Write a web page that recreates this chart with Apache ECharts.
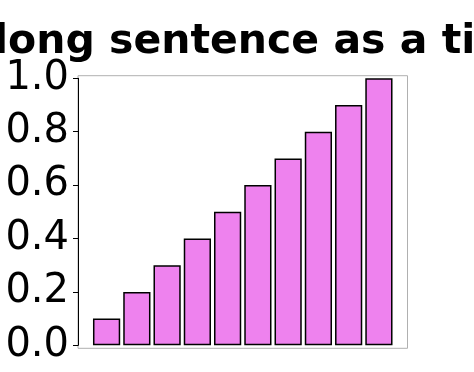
<!DOCTYPE html>
<html><head><meta charset="utf-8">
<script src="https://cdn.jsdelivr.net/npm/echarts@6/dist/echarts.min.js"></script>
<style>html,body{margin:0;padding:0;background:#fff}#c{width:474px;height:372px}</style>
</head><body><div id="c"></div>
<script>
const titleText = 'A long sentence as a title';
const positions = [0, 1, 2, 3, 4, 5, 6, 7, 8, 9];
const values = [0.1, 0.2, 0.3, 0.4, 0.5, 0.6, 0.7, 0.8, 0.9, 1.0];
const yTicks = [0, 0.2, 0.4, 0.6, 0.8, 1.0];
const xMin = -0.945, xMax = 9.945;

const chart = echarts.init(document.getElementById('c'), null, {renderer: 'canvas'});
const font = 'DejaVu Sans';
chart.setOption({
  animation: false,
  backgroundColor: '#fff',
  graphic: [{
    type: 'text', left: 243 - 295, top: 22,
    style: {text: titleText, font: 'bold 41px "DejaVu Sans"', fill: '#000'}
  }],
  grid: [
    {left: 78, top: 75.7, width: 329.5, height: 272.6, show: true, borderColor: '#b0b0b0', borderWidth: 1, backgroundColor: 'transparent'},
    {left: 78, top: 78.3, width: 329.5, height: 267}
  ],
  xAxis: [
    {gridIndex: 0, type: 'value', min: 0, max: 1, show: false},
    {gridIndex: 1, type: 'value', min: xMin, max: xMax, show: false}
  ],
  yAxis: [
    {gridIndex: 0, type: 'value', min: 0, max: 1, show: false},
    {gridIndex: 1, type: 'value', min: 0, max: 1, interval: 0.2,
     axisLine: {show: true, onZero: false, lineStyle: {color: '#000', width: 1}},
     axisTick: {show: true, inside: false, length: 5, lineStyle: {color: '#000', width: 1}},
     axisLabel: {margin: 9, fontFamily: font, fontSize: 40, color: '#000',
       formatter: v => v.toFixed(1)},
     splitLine: {show: false}
    }
  ],
  series: [{
    type: 'bar', xAxisIndex: 1, yAxisIndex: 1,
    data: positions.map((p, i) => [p, values[i]]),
    barWidth: '90%',
    itemStyle: {color: '#ee82ee', borderColor: '#000', borderWidth: 1.5}
  }]
});
</script></body></html>
